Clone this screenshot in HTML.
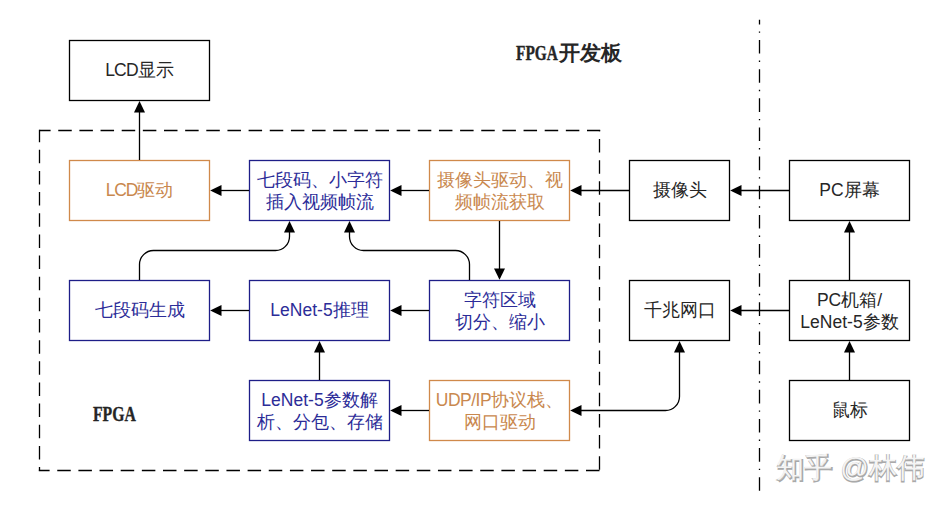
<!DOCTYPE html>
<html><head><meta charset="utf-8">
<style>
html,body{margin:0;padding:0;background:#fff;width:948px;height:505px;overflow:hidden}
svg{display:block}
text{font-family:"Liberation Sans",sans-serif;font-size:17.5px;text-anchor:middle}
.k{fill:#262626}
.b{fill:#2c2c98}
.o{fill:#c9884e}
.ser{font-family:"Liberation Serif",serif;font-weight:bold;text-anchor:start}
</style></head><body>
<svg width="948" height="505" viewBox="0 0 948 505">
<rect width="948" height="505" fill="#fff"/>
<!-- dashed FPGA board -->
<g fill="none" stroke="#000" stroke-width="1.3" stroke-dasharray="13.5 7.65">
<path d="M39.5 130.5 H600.2" stroke-dashoffset="2.4"/>
<path d="M599.5 130.5 V471.2" stroke-dashoffset="12.65"/>
<path d="M599.5 470.5 H38.8" stroke-dashoffset="0"/>
<path d="M39.5 470.5 V129.8" stroke-dashoffset="10.05"/>
</g>
<!-- dash-dot separator -->
<line x1="759.5" y1="19.8" x2="759.5" y2="490.8" stroke="#000" stroke-width="1.3" stroke-dasharray="13.6 7 1.4 7.15" stroke-dashoffset="8.95"/>

<g fill="#fff" stroke-width="1.3">
<rect x="69.5" y="40.5" width="140" height="60" stroke="#000"/>
<rect x="69.5" y="160.5" width="140" height="60" stroke="#d0894a"/>
<rect x="249.5" y="160.5" width="140" height="60" stroke="#1e1e88"/>
<rect x="429.5" y="160.5" width="140" height="60" stroke="#d0894a"/>
<rect x="629.5" y="160.5" width="100" height="60" stroke="#000"/>
<rect x="789.5" y="160.5" width="120" height="60" stroke="#000"/>
<rect x="69.5" y="280.5" width="140" height="60" stroke="#1e1e88"/>
<rect x="249.5" y="280.5" width="140" height="60" stroke="#1e1e88"/>
<rect x="429.5" y="280.5" width="140" height="60" stroke="#1e1e88"/>
<rect x="629.5" y="280.5" width="100" height="60" stroke="#000"/>
<rect x="789.5" y="280.5" width="120" height="60" stroke="#000"/>
<rect x="249.5" y="380.5" width="140" height="60" stroke="#1e1e88"/>
<rect x="429.5" y="380.5" width="140" height="60" stroke="#d0894a"/>
<rect x="789.5" y="380.5" width="120" height="60" stroke="#000"/>
</g>

<!-- connectors -->
<g fill="none" stroke="#000" stroke-width="1.3">
<line x1="139.5" y1="160" x2="139.5" y2="112"/>
<line x1="249" y1="190.5" x2="221" y2="190.5"/>
<line x1="429" y1="190.5" x2="401" y2="190.5"/>
<line x1="629" y1="190.5" x2="581" y2="190.5"/>
<line x1="789" y1="190.5" x2="741" y2="190.5"/>
<line x1="499.5" y1="221" x2="499.5" y2="269"/>
<path d="M469.5 280 V264.5 A14 14 0 0 0 455.5 250.5 H363.5 A14 14 0 0 1 349.5 236.5 V232"/>
<path d="M139.5 280 V264.5 A14 14 0 0 1 153.5 250.5 H275.5 A14 14 0 0 0 289.5 236.5 V232"/>
<line x1="429" y1="310.5" x2="401" y2="310.5"/>
<line x1="249" y1="310.5" x2="221" y2="310.5"/>
<line x1="319.5" y1="380" x2="319.5" y2="352"/>
<line x1="429" y1="410.5" x2="401" y2="410.5"/>
<path d="M581 410.5 H665.5 A14 14 0 0 0 679.5 396.5 V352"/>
<line x1="789" y1="310.5" x2="741" y2="310.5"/>
<line x1="849.5" y1="280" x2="849.5" y2="232"/>
<line x1="849.5" y1="380" x2="849.5" y2="352"/>
</g>
<g fill="#000">
<polygon points="139.5,101 134,112.5 145,112.5"/>
<polygon points="210.2,190.5 221.5,185 221.5,196"/>
<polygon points="390.2,190.5 401.5,185 401.5,196"/>
<polygon points="570.2,190.5 581.5,185 581.5,196"/>
<polygon points="730.2,190.5 741.5,185 741.5,196"/>
<polygon points="499.5,279.8 494,268.5 505,268.5"/>
<polygon points="349.5,221 344,232.5 355,232.5"/>
<polygon points="289.5,221 284,232.5 295,232.5"/>
<polygon points="390.2,310.5 401.5,305 401.5,316"/>
<polygon points="210.2,310.5 221.5,305 221.5,316"/>
<polygon points="319.5,341 314,352.5 325,352.5"/>
<polygon points="390.2,410.5 401.5,405 401.5,416"/>
<polygon points="570.2,410.5 581.5,405 581.5,416"/>
<polygon points="679.5,341 674,352.5 685,352.5"/>
<polygon points="730.2,310.5 741.5,305 741.5,316"/>
<polygon points="849.5,221 844,232.5 855,232.5"/>
<polygon points="849.5,341 844,352.5 855,352.5"/>
</g>

<!-- texts -->
<text class="k" x="139.5" y="76"><tspan style="letter-spacing:-0.8px">LCD</tspan>显示</text>
<text class="o" x="139.5" y="196"><tspan style="letter-spacing:-1.2px">LCD</tspan>驱动</text>
<text class="b" x="319.5" y="186">七段码、小字符</text>
<text class="b" x="319.5" y="208">插入视频帧流</text>
<text class="o" x="499.5" y="186">摄像头驱动、视</text>
<text class="o" x="499.5" y="208">频帧流获取</text>
<text class="k" x="679.5" y="196">摄像头</text>
<text class="k" x="849.5" y="196">PC屏幕</text>
<text class="b" x="139.5" y="316">七段码生成</text>
<text class="b" x="319.5" y="316">LeNet-5推理</text>
<text class="b" x="499.5" y="306">字符区域</text>
<text class="b" x="499.5" y="328">切分、缩小</text>
<text class="k" x="679.5" y="316">千兆网口</text>
<text class="k" x="849.5" y="306">PC机箱/</text>
<text class="k" x="849.5" y="328">LeNet-5参数</text>
<text class="b" x="319.5" y="406">LeNet-5参数解</text>
<text class="b" x="319.5" y="428">析、分包、存储</text>
<text class="o" x="499.5" y="406"><tspan style="letter-spacing:-0.5px">UDP/IP</tspan>协议栈、</text>
<text class="o" x="499.5" y="428">网口驱动</text>
<text class="k" x="849.5" y="416">鼠标</text>
<text class="ser k" transform="translate(516,60.3) scale(0.77,1)" x="0" y="0" style="font-size:20px;stroke:#222;stroke-width:0.35">FPGA</text>
<text class="ser k" x="558.5" y="60" style="font-size:21px;font-weight:600">开发板</text>
<text class="ser k" transform="translate(93,420.8) scale(0.75,1)" x="0" y="0" style="font-size:21px;stroke:#222;stroke-width:0.35">FPGA</text>
<text x="851" y="477.5" style="font-size:28px;fill:#fff;stroke:#a9a9a9;stroke-width:1.6">知乎 @林伟</text>
<text x="850.5" y="477" style="font-size:28px;fill:#f4f4f4">知乎 @林伟</text>
</svg>
</body></html>
